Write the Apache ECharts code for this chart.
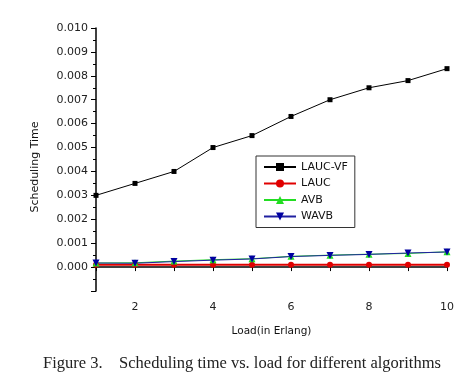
<!DOCTYPE html>
<html><head><meta charset="utf-8">
<script src="https://cdn.jsdelivr.net/npm/echarts@6/dist/echarts.min.js"></script>
<style>html,body{margin:0;padding:0;background:#fff}#c{width:474px;height:379px}</style>
</head><body><div id="c"></div>
<script>
var loads = [1,2,3,4,5,6,7,8,9,10];
var laucVF = [0.0030,0.0035,0.0040,0.0050,0.0055,0.0063,0.0070,0.0075,0.0078,0.0083];
var lauc   = [0.0001,0.0001,0.0001,0.0001,0.0001,0.0001,0.0001,0.0001,0.0001,0.0001];
var avb    = [0.00017,0.00018,0.00025,0.00031,0.00035,0.00045,0.00050,0.00054,0.00057,0.00064];
var wavb   = [0.00017,0.00016,0.00023,0.00029,0.00034,0.00044,0.00049,0.00053,0.00059,0.00063];
var seriesNames = ['LAUC-VF','LAUC','AVB','WAVB'];
var yTitle = 'Scheduling Time';
var xTitle = 'Load(in Erlang)';
var caption = 'Figure 3.    Scheduling time vs. load for different algorithms';

function pts(v){ return loads.map(function(x,i){ return [x, v[i]]; }); }
var chart = echarts.init(document.getElementById('c'));
var F = 'DejaVu Sans, Verdana, sans-serif';
chart.setOption({
  animation:false,
  backgroundColor:'#fff',
  grid:{left:96,right:27,top:28,bottom:88},
  legend:{
    left:256, top:156, orient:'vertical', itemGap:5.5, itemWidth:32, itemHeight:10,
    backgroundColor:'#fff', borderColor:'#333', borderWidth:1, padding:[5.5,7,5.5,7],
    textStyle:{fontFamily:F,fontSize:11,color:'#111'},
    data:seriesNames
  },
  xAxis:{
    type:'value', min:1, max:10, interval:1,
    name:xTitle, nameLocation:'middle', nameGap:35,
    nameTextStyle:{fontFamily:F,fontSize:10.5,color:'#111'},
    axisLine:{lineStyle:{color:'#000',width:1.5}},
    axisTick:{show:true,length:4,lineStyle:{color:'#000'}},
    axisLabel:{fontFamily:F,fontSize:11,color:'#222',margin:11,
      formatter:function(v){return v%2===0?String(v):'';}},
    splitLine:{show:false}
  },
  yAxis:{
    type:'value', min:-0.001, max:0.010, interval:0.001,
    axisLine:{show:true,lineStyle:{color:'#000',width:1.5}},
    axisTick:{show:true,length:5,lineStyle:{color:'#000'}},
    minorTick:{show:true,splitNumber:2,length:3,lineStyle:{color:'#000'}},
    axisLabel:{fontFamily:F,fontSize:11,color:'#222',margin:8,
      formatter:function(v){return v<-1e-9?'':v.toFixed(3);}},
    splitLine:{show:false}
  },
  series:[
    {name:'LAUC-VF',type:'line',data:pts(laucVF),symbol:'rect',symbolSize:5,
      itemStyle:{color:'#000'},lineStyle:{color:'#000',width:1}},
    {name:'LAUC',type:'line',data:pts(lauc),symbol:'circle',symbolSize:6,
      itemStyle:{color:'#e00000'},lineStyle:{color:'#e00000',width:2}},
    {name:'AVB',type:'line',data:pts(avb),symbol:'triangle',symbolSize:7,
      itemStyle:{color:'#22dd22'},lineStyle:{color:'#22dd22',width:1}},
    {name:'WAVB',type:'line',data:pts(wavb),symbol:'path://M0,0L10,0L5,9Z',symbolSize:7,
      itemStyle:{color:'#0000a0'},lineStyle:{color:'#2020a0',width:1}}
  ],
  graphic:[
    {type:'text',x:35,y:167,rotation:Math.PI/2,
      style:{text:yTitle,fontFamily:F,fontSize:11,fill:'#111',align:'center',verticalAlign:'middle'}},
    {type:'text',x:242,y:364,
      style:{text:caption,fontFamily:'Liberation Serif, Times New Roman, serif',fontSize:16.5,fill:'#222',align:'center',verticalAlign:'middle'}}
  ]
});
</script></body></html>
